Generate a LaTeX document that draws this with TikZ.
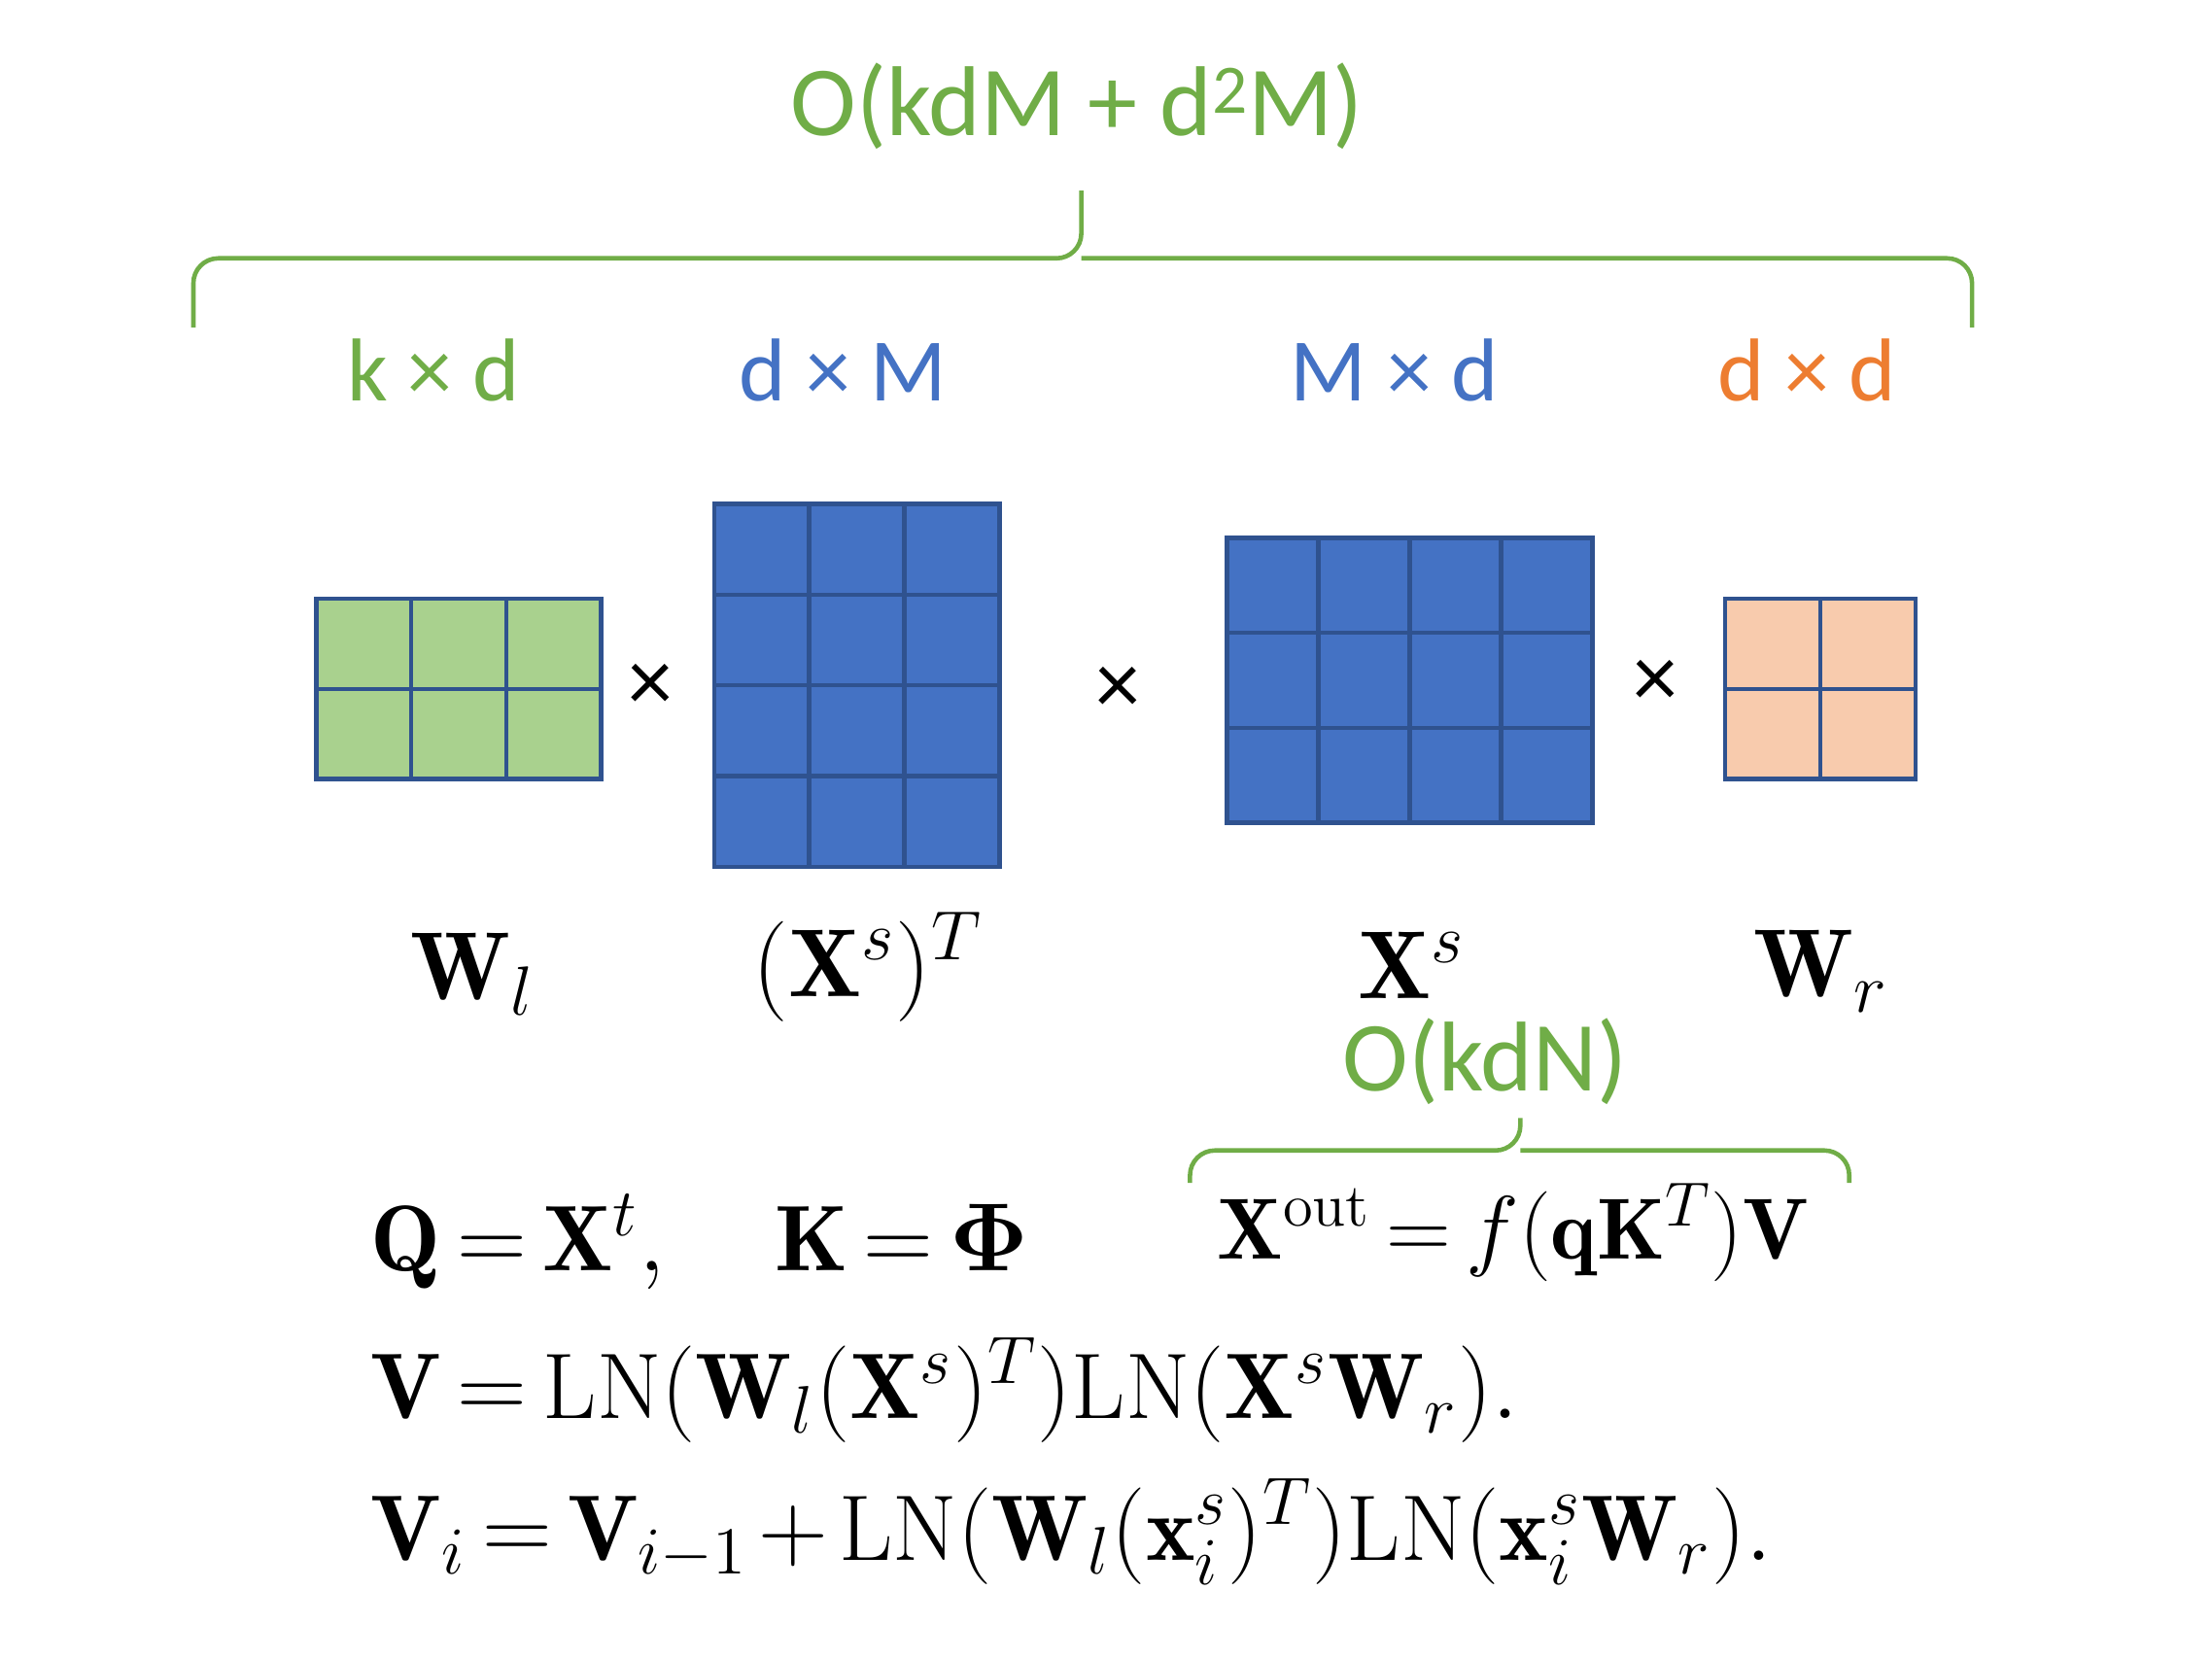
\documentclass[tikz,border=0pt]{standalone}
\usepackage{amsmath,bm}
\usepackage{fontspec}
\newfontfamily\calfont{Carlito}
\definecolor{cgreen}{HTML}{70AD47}
\definecolor{cblue}{HTML}{4472C4}
\definecolor{corange}{HTML}{ED7D31}
\definecolor{gfill}{HTML}{A9D18E}
\definecolor{ofill}{HTML}{F8CBAD}
\definecolor{edge}{HTML}{2F528F}
\newcommand{\eqs}{\mskip3mu{=}\mskip3mu}
\begin{document}
\begin{tikzpicture}[x=0.02cm,y=-0.02cm,
  lab/.style={font=\calfont\fontsize{36}{40}\selectfont},
  ttl/.style={font=\calfont\fontsize{40}{44}\selectfont,text=cgreen},
  nm/.style={font=\fontsize{20}{24}\selectfont,scale=1.95},
  eq/.style={font=\fontsize{20}{24}\selectfont,anchor=west,inner sep=0pt,scale=1.88},
  brace/.style={cgreen,line width=1.8pt,rounded corners=10pt},
  cell/.style={draw=edge,line width=1.8pt}]
\useasboundingbox (0,0) rectangle (1567,1175);
% title and brace
\node[ttl] (t1) at (763,75) {O(kdM + d\textsuperscript{2}M)};
\draw[brace] (137,232) -- (137,183) -- (766,183) -- (766,135);
\draw[brace] (1397,232) -- (1397,183) -- (766,183);
% dims
\node[lab,text=cgreen] (l1) at (307,262) {k × d};
\node[lab,text=cblue] (l2) at (597,262) {d × M};
\node[lab,text=cblue] (l3) at (988,262) {M × d};
\node[lab,text=corange] (l4) at (1280,262) {d × d};
% matrices
\newcommand{\mymat}[7]{% x0 y0 x1 y1 cols rows fill
  \fill[#7] (#1,#2) rectangle (#3,#4);
  \pgfmathsetmacro\dx{(#3-#1)/#5}\pgfmathsetmacro\dy{(#4-#2)/#6}
  \foreach \i in {1,...,#5}{\draw[cell] ({#1+(\i-1)*\dx},#2) -- ({#1+(\i-1)*\dx},#4);}
  \foreach \j in {1,...,#6}{\draw[cell] (#1,{#2+(\j-1)*\dy}) -- (#3,{#2+(\j-1)*\dy});}
  \draw[cell] (#1,#2) rectangle (#3,#4);}
\mymat{224}{424}{426}{552}{3}{2}{gfill}
\mymat{506}{357}{708}{614}{3}{4}{cblue}
\mymat{869}{381}{1128}{583}{4}{3}{cblue}
\mymat{1222}{424}{1357}{552}{2}{2}{ofill}
\node[lab] (m1) at (461,487) {×};
\node[lab] (m2) at (792,489) {×};
\node[lab] (m3) at (1173,484) {×};
% names
\node[nm] (n1) at (335,690) {$\mathbf{W}_l$};
\node[nm] (n2) at (615,685) {$(\mathbf{X}^s)^T$};
\node[nm] (n3) at (1000,684) {$\mathbf{X}^s$};
\node[nm] (n4) at (1290,688) {$\mathbf{W}_r$};
% second brace
\node[ttl] (t2) at (1052,752) {O(kdN)};
\draw[brace] (843,838) -- (843,815) -- (1077,815) -- (1077,792);
\draw[brace] (1310,838) -- (1310,815) -- (1077,815);
% equations
\node[eq] (e1) at (262,880) {$\mathbf{Q}\eqs\mathbf{X}^t,\quad \mathbf{K}\eqs\bm{\Phi}$};
\node[font=\fontsize{20}{24}\selectfont,scale=1.75] (e2) at (1072,873) {$\mathbf{X}^{\mathrm{out}}\eqs f(\mathbf{q}\mathbf{K}^T)\mathbf{V}$};
\node[eq] (e3) at (262,985) {$\mathbf{V}\eqs\mathrm{LN}(\mathbf{W}_l(\mathbf{X}^s)^T)\mathrm{LN}(\mathbf{X}^s\mathbf{W}_r).$};
\node[eq] (e4) at (262,1085) {$\mathbf{V}_i\eqs\mathbf{V}_{i-1}\mskip2mu{+}\mskip2mu\mathrm{LN}(\mathbf{W}_l(\mathbf{x}_i^s)^T)\mathrm{LN}(\mathbf{x}_i^s\mathbf{W}_r).$};
\end{tikzpicture}
\end{document}
